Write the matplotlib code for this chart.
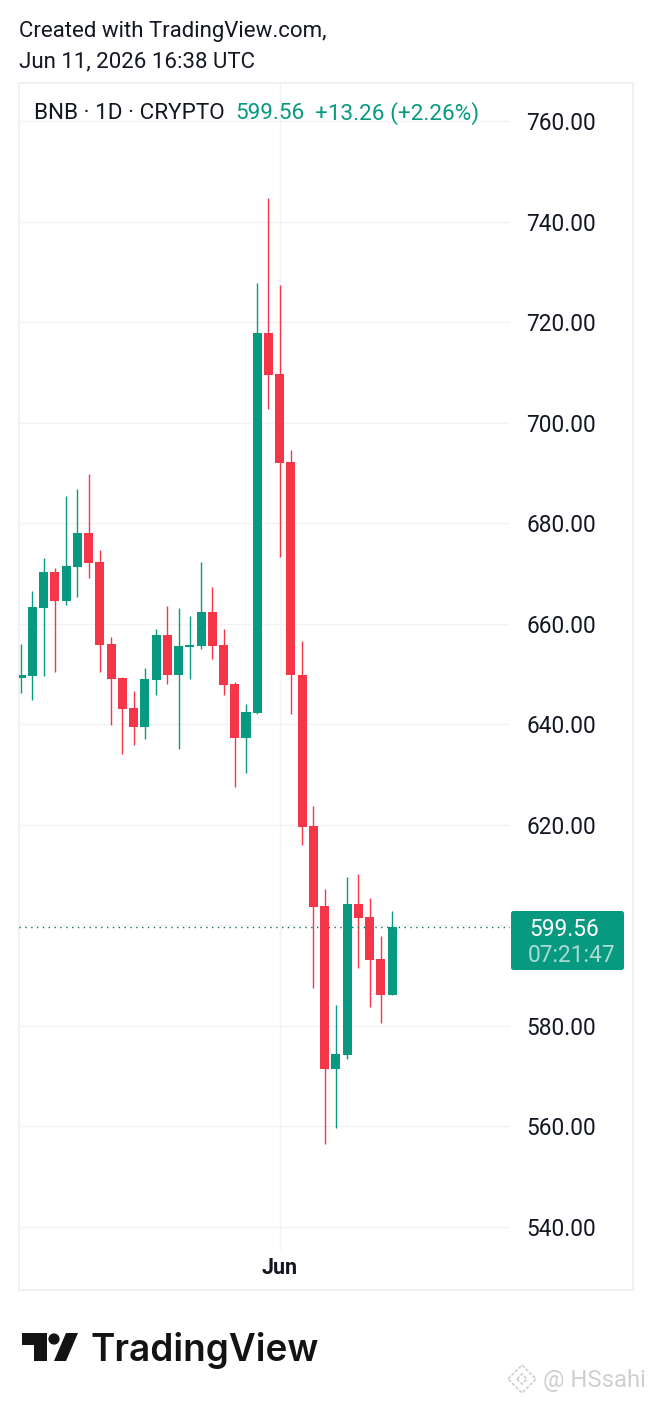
import matplotlib
matplotlib.use("Agg")
import matplotlib.pyplot as plt
from matplotlib.patches import Rectangle, Polygon, Circle, FancyBboxPatch

opens = [649.26, 649.66, 663.19, 670.35, 664.58, 671.35, 678.11, 672.34, 656.02, 649.26, 643.29,
         639.50, 648.86, 657.81, 649.85, 655.43, 655.62, 662.39, 655.82, 648.06, 637.32, 642.29,
         717.91, 709.75, 692.24, 649.85, 619.80, 603.89, 571.45, 574.23, 604.28, 601.70, 593.34, 586.17]
highs = [656.00, 666.57, 673.14, 671.15, 685.48, 686.87, 689.85, 674.73, 657.42, 649.46, 646.67,
         651.25, 659.00, 663.58, 663.19, 661.60, 672.34, 667.37, 659.00, 648.46, 644.08, 727.86,
         744.78, 727.46, 694.63, 656.60, 623.79, 607.27, 584.18, 609.66, 610.25, 605.48, 597.91, 602.89]
lows = [646.30, 644.88, 649.66, 650.45, 663.78, 665.38, 669.16, 650.45, 639.90, 634.13, 635.92,
        637.12, 645.87, 648.06, 635.13, 649.06, 655.03, 653.04, 645.87, 627.57, 630.35, 642.09,
        702.79, 673.33, 642.09, 616.00, 587.57, 556.52, 559.70, 573.44, 591.55, 583.79, 580.60, 586.17]
closes = [649.85, 663.39, 670.35, 664.58, 671.55, 678.11, 672.14, 655.82, 649.06, 643.09, 639.50,
          649.06, 657.81, 649.85, 655.62, 655.82, 662.39, 655.62, 647.86, 637.32, 642.49, 717.91,
          709.55, 692.04, 649.72, 619.61, 603.69, 571.45, 574.43, 604.28, 601.50, 593.14, 586.17, 599.56]
y_ticks = [540, 560, 580, 600, 620, 640, 660, 680, 700, 720, 740, 760]
month_tick = 23
month_label = "Jun"
last_price = 599.56

GREEN = "#089981"
RED = "#F43648"
DARK = "#131722"
GRID = "#F2F3F4"
W, H = 652, 1404

plt.rcParams["font.family"] = ["Roboto", "DejaVu Sans"]
fig = plt.figure(figsize=(W / 100, H / 100), dpi=100, facecolor="white")

# pixel overlay for the frame
bg = fig.add_axes([0, 0, 1, 1])
bg.set_xlim(0, W)
bg.set_ylim(H, 0)
bg.axis("off")
bg.add_patch(Rectangle((18.5, 83), 614.5, 1207, fc="white", ec="#F0F1F2", lw=1.5))

# main chart, placed in pixels: left 19, right 510, top 84, bottom 1250
left, right, top, bottom = 19, 510, 84, 1250
ax = fig.add_axes([left / W, 1 - bottom / H, (right - left) / W, (bottom - top) / H])
ax.patch.set_alpha(0)
px_per_unit = 5.025
ax.set_ylim(540 - (bottom - 1226.7) / px_per_unit, 760 + (121.2 - top) / px_per_unit)
bar_px = 11.24
ax.set_xlim((left - 21.2) / bar_px, (right - 21.2) / bar_px)
for s in ax.spines.values():
    s.set_visible(False)

# the 600.00 label sits under the last price box, so only its grid line shows
ax.set_yticks(y_ticks)
ax.set_yticklabels(["" if v == 600 else f"{v:.2f}" for v in y_ticks], fontsize=16.3, color=DARK)
ax.yaxis.tick_right()
ax.tick_params(axis="y", length=0, pad=11.6)
ax.set_xticks([month_tick])
ax.set_xticklabels([month_label], fontsize=15.5, fontweight="bold", color=DARK)
ax.tick_params(axis="x", length=0, pad=4.8)
ax.grid(True, color=GRID, lw=1)
ax.set_axisbelow(True)

for i in range(len(opens)):
    col = GREEN if closes[i] >= opens[i] else RED
    ax.vlines(i, lows[i], highs[i], color=col, lw=1.0, zorder=2)
    lo = min(opens[i], closes[i])
    ax.bar(i, abs(closes[i] - opens[i]), bottom=lo, width=9 / bar_px, color=col, lw=0, zorder=3)

ax.axhline(last_price, color="#0B6E5E", lw=1.0, ls=(0, (1, 3.2)), zorder=2.5)

# top layer: header, legend, price label, logo
lab = fig.add_axes([0, 0, 1, 1])
lab.set_xlim(0, W)
lab.set_ylim(H, 0)
lab.axis("off")
lab.text(19, 31, "Created with TradingView.com,", fontsize=16, color=DARK, va="center")
lab.text(19, 62, "Jun 11, 2026 16:38 UTC", fontsize=16, color=DARK, va="center")
lab.text(34, 113.5, "BNB · 1D · CRYPTO", fontsize=16.2, color=DARK, va="center")
lab.text(235.5, 113.5, "599.56", fontsize=16.2, color=GREEN, va="center")
lab.text(315, 113.5, "+13.26 (+2.26%)", fontsize=16.2, color=GREEN, va="center")

# last price label
lab.add_patch(FancyBboxPatch((511, 911), 113, 59, boxstyle="round,pad=0,rounding_size=2.5", fc=GREEN, ec="none"))
lab.text(529, 929.5, f"{last_price:.2f}", fontsize=16.3, color="white", va="center")
lab.text(528, 955.5, "07:21:47", fontsize=16.4, color="#A9DBD2", va="center")

# TradingView logo
LOGO = "#131313"
lab.add_patch(Polygon([(22, 1333), (47, 1333), (47, 1361), (34, 1361), (34, 1345), (22, 1345)], fc=LOGO, ec="none"))
lab.add_patch(Circle((54, 1339), 5.6, fc=LOGO, ec="none"))
lab.add_patch(Polygon([(66, 1333), (78, 1333), (66, 1361), (54, 1361)], fc=LOGO, ec="none"))
lab.text(91, 1350.5, "TradingView", fontsize=26.6, fontweight="semibold", family="Inter", color=LOGO, va="center")

# watermark
WM = "#CFCFCF"
for cx, cy, r in [(522, 1379, 14), (522, 1379, 5)]:
    lab.add_patch(Polygon([(cx - r, cy), (cx, cy - r), (cx + r, cy), (cx, cy + r)], fc="none", ec=WM, lw=1.2, ls=(0, (2, 1))))
lab.text(543, 1380, "@ HSsahi", fontsize=17.2, color=WM, va="center")

fig.savefig("out.png", dpi=100)
